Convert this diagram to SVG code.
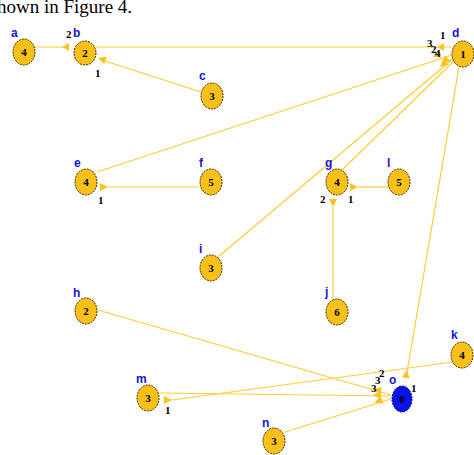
<svg xmlns="http://www.w3.org/2000/svg" width="474" height="455" viewBox="0 0 474 455">
<style>
.n{fill:#F9C01A;stroke:#3a2a00;stroke-width:1;stroke-dasharray:2,1}
.nb{fill:#0B12E8;stroke:#000a80;stroke-width:1;stroke-dasharray:2,1}
.e{stroke:#FFCC33;stroke-width:1.2;fill:none}
.t{fill:#FFC21E}
.lb{font-family:"Liberation Sans",Arial,sans-serif;font-size:12px;font-weight:bold;fill:#1414E0}
.v{font-family:"Liberation Serif","Times New Roman",serif;font-size:11px;font-weight:bold;fill:#000;text-anchor:middle}
.p{font-family:"Liberation Serif","Times New Roman",serif;font-size:11px;font-weight:bold;fill:#000}
</style>
<rect width="474" height="455" fill="#fff"/>
<text x="-3" y="13" font-family="Liberation Serif,'Times New Roman',serif" font-size="19" fill="#000">hown in Figure 4.</text>
<g id="connectors">
<line class="e" x1="35" y1="47" x2="69" y2="47"/>
<line class="e" x1="96" y1="47" x2="452" y2="47"/>
<line class="e" x1="201" y1="92" x2="105" y2="61"/>
<line class="e" x1="97" y1="172" x2="452" y2="55"/>
<line class="e" x1="199" y1="187" x2="108" y2="187"/>
<line class="e" x1="218" y1="257" x2="454" y2="58"/>
<line class="e" x1="342" y1="170" x2="455" y2="60"/>
<line class="e" x1="388" y1="187" x2="358" y2="187"/>
<line class="e" x1="333" y1="299" x2="333" y2="207"/>
<line class="e" x1="459" y1="67" x2="406" y2="378"/>
<line class="e" x1="98" y1="310" x2="391" y2="395"/>
<line class="e" x1="453" y1="362" x2="172" y2="400"/>
<line class="e" x1="160" y1="393" x2="391" y2="396"/>
<line class="e" x1="285" y1="432" x2="391" y2="399"/>
<polygon class="t" points="62,47 69,43 69,51"/>
<polygon class="t" points="98,58 106.8,56.6 104.4,64.2"/>
<polygon class="t" points="437,47 444,43 444,51"/>
<polygon class="t" points="432.5,56.7 441.3,57.8 438.7,50.2"/>
<polygon class="t" points="440,67 448.6,64.8 443.4,58.8"/>
<polygon class="t" points="442,64 450.5,61.1 444.7,55.5"/>
<polygon class="t" points="108,187 100,183 100,191"/>
<polygon class="t" points="358,187 350,183 350,191"/>
<polygon class="t" points="333,207 329,199 337,199"/>
<polygon class="t" points="407,370 409.6,378.6 401.8,377.2"/>
<polygon class="t" points="373.3,388.7 382.1,387.2 379.9,394.8"/>
<polygon class="t" points="373,395 381,391 381,399"/>
<polygon class="t" points="374.4,402.5 383.2,403.8 380.8,396.2"/>
<polygon class="t" points="172,400 164,396 164,404"/>
<text class="p" x="66" y="38">2</text>
<text class="p" x="95" y="77">1</text>
<text class="p" x="440" y="39">1</text>
<text class="p" x="427" y="47">3</text>
<text class="p" x="431" y="53">2</text>
<text class="p" x="435" y="57">4</text>
<text class="p" x="98" y="204">1</text>
<text class="p" x="348" y="203">1</text>
<text class="p" x="320" y="203">2</text>
<text class="p" x="411" y="392">1</text>
<text class="p" x="379" y="377">2</text>
<text class="p" x="375" y="384">3</text>
<text class="p" x="371" y="392">3</text>
<text class="p" x="165" y="414">1</text>
</g>
<g id="node-a"><ellipse class="n" cx="24" cy="52" rx="11" ry="13"/><text class="v" x="24" y="56">4</text><text class="lb" x="11" y="37">a</text></g>
<g id="node-b"><ellipse class="n" cx="85" cy="53" rx="11" ry="12"/><text class="v" x="85" y="57">2</text><text class="lb" x="73" y="37">b</text></g>
<g id="node-c"><ellipse class="n" cx="212" cy="96" rx="11" ry="13"/><text class="v" x="212" y="100">3</text><text class="lb" x="199" y="80">c</text></g>
<g id="node-d"><ellipse class="n" cx="463" cy="54" rx="11" ry="13"/><text class="v" x="463" y="58">1</text><text class="lb" x="452" y="37">d</text></g>
<g id="node-e"><ellipse class="n" cx="86" cy="182" rx="11" ry="13"/><text class="v" x="86" y="186">4</text><text class="lb" x="74" y="167">e</text></g>
<g id="node-f"><ellipse class="n" cx="211" cy="182" rx="11" ry="13"/><text class="v" x="211" y="186">5</text><text class="lb" x="199" y="167">f</text></g>
<g id="node-g"><ellipse class="n" cx="337" cy="182" rx="11" ry="13"/><text class="v" x="337" y="186">4</text><text class="lb" x="325" y="167">g</text></g>
<g id="node-l"><ellipse class="n" cx="399" cy="182" rx="11" ry="13"/><text class="v" x="399" y="186">5</text><text class="lb" x="387" y="167">l</text></g>
<g id="node-i"><ellipse class="n" cx="211" cy="268" rx="11" ry="13"/><text class="v" x="211" y="272">3</text><text class="lb" x="199" y="253">i</text></g>
<g id="node-h"><ellipse class="n" cx="86" cy="311" rx="11" ry="13"/><text class="v" x="86" y="315">2</text><text class="lb" x="73" y="297">h</text></g>
<g id="node-j"><ellipse class="n" cx="337" cy="312" rx="11" ry="13"/><text class="v" x="337" y="316">6</text><text class="lb" x="325" y="296">j</text></g>
<g id="node-k"><ellipse class="n" cx="462" cy="355" rx="11" ry="13"/><text class="v" x="462" y="359">4</text><text class="lb" x="451" y="339">k</text></g>
<g id="node-m"><ellipse class="n" cx="148" cy="398" rx="11" ry="13"/><text class="v" x="148" y="402">3</text><text class="lb" x="136" y="383">m</text></g>
<g id="node-o"><ellipse class="nb" cx="402" cy="399" rx="10" ry="13"/><text class="v" x="402" y="403">0</text><text class="lb" x="389" y="384">o</text></g>
<g id="node-n"><ellipse class="n" cx="274" cy="441" rx="11" ry="13"/><text class="v" x="274" y="445">3</text><text class="lb" x="262" y="427">n</text></g>
</svg>
